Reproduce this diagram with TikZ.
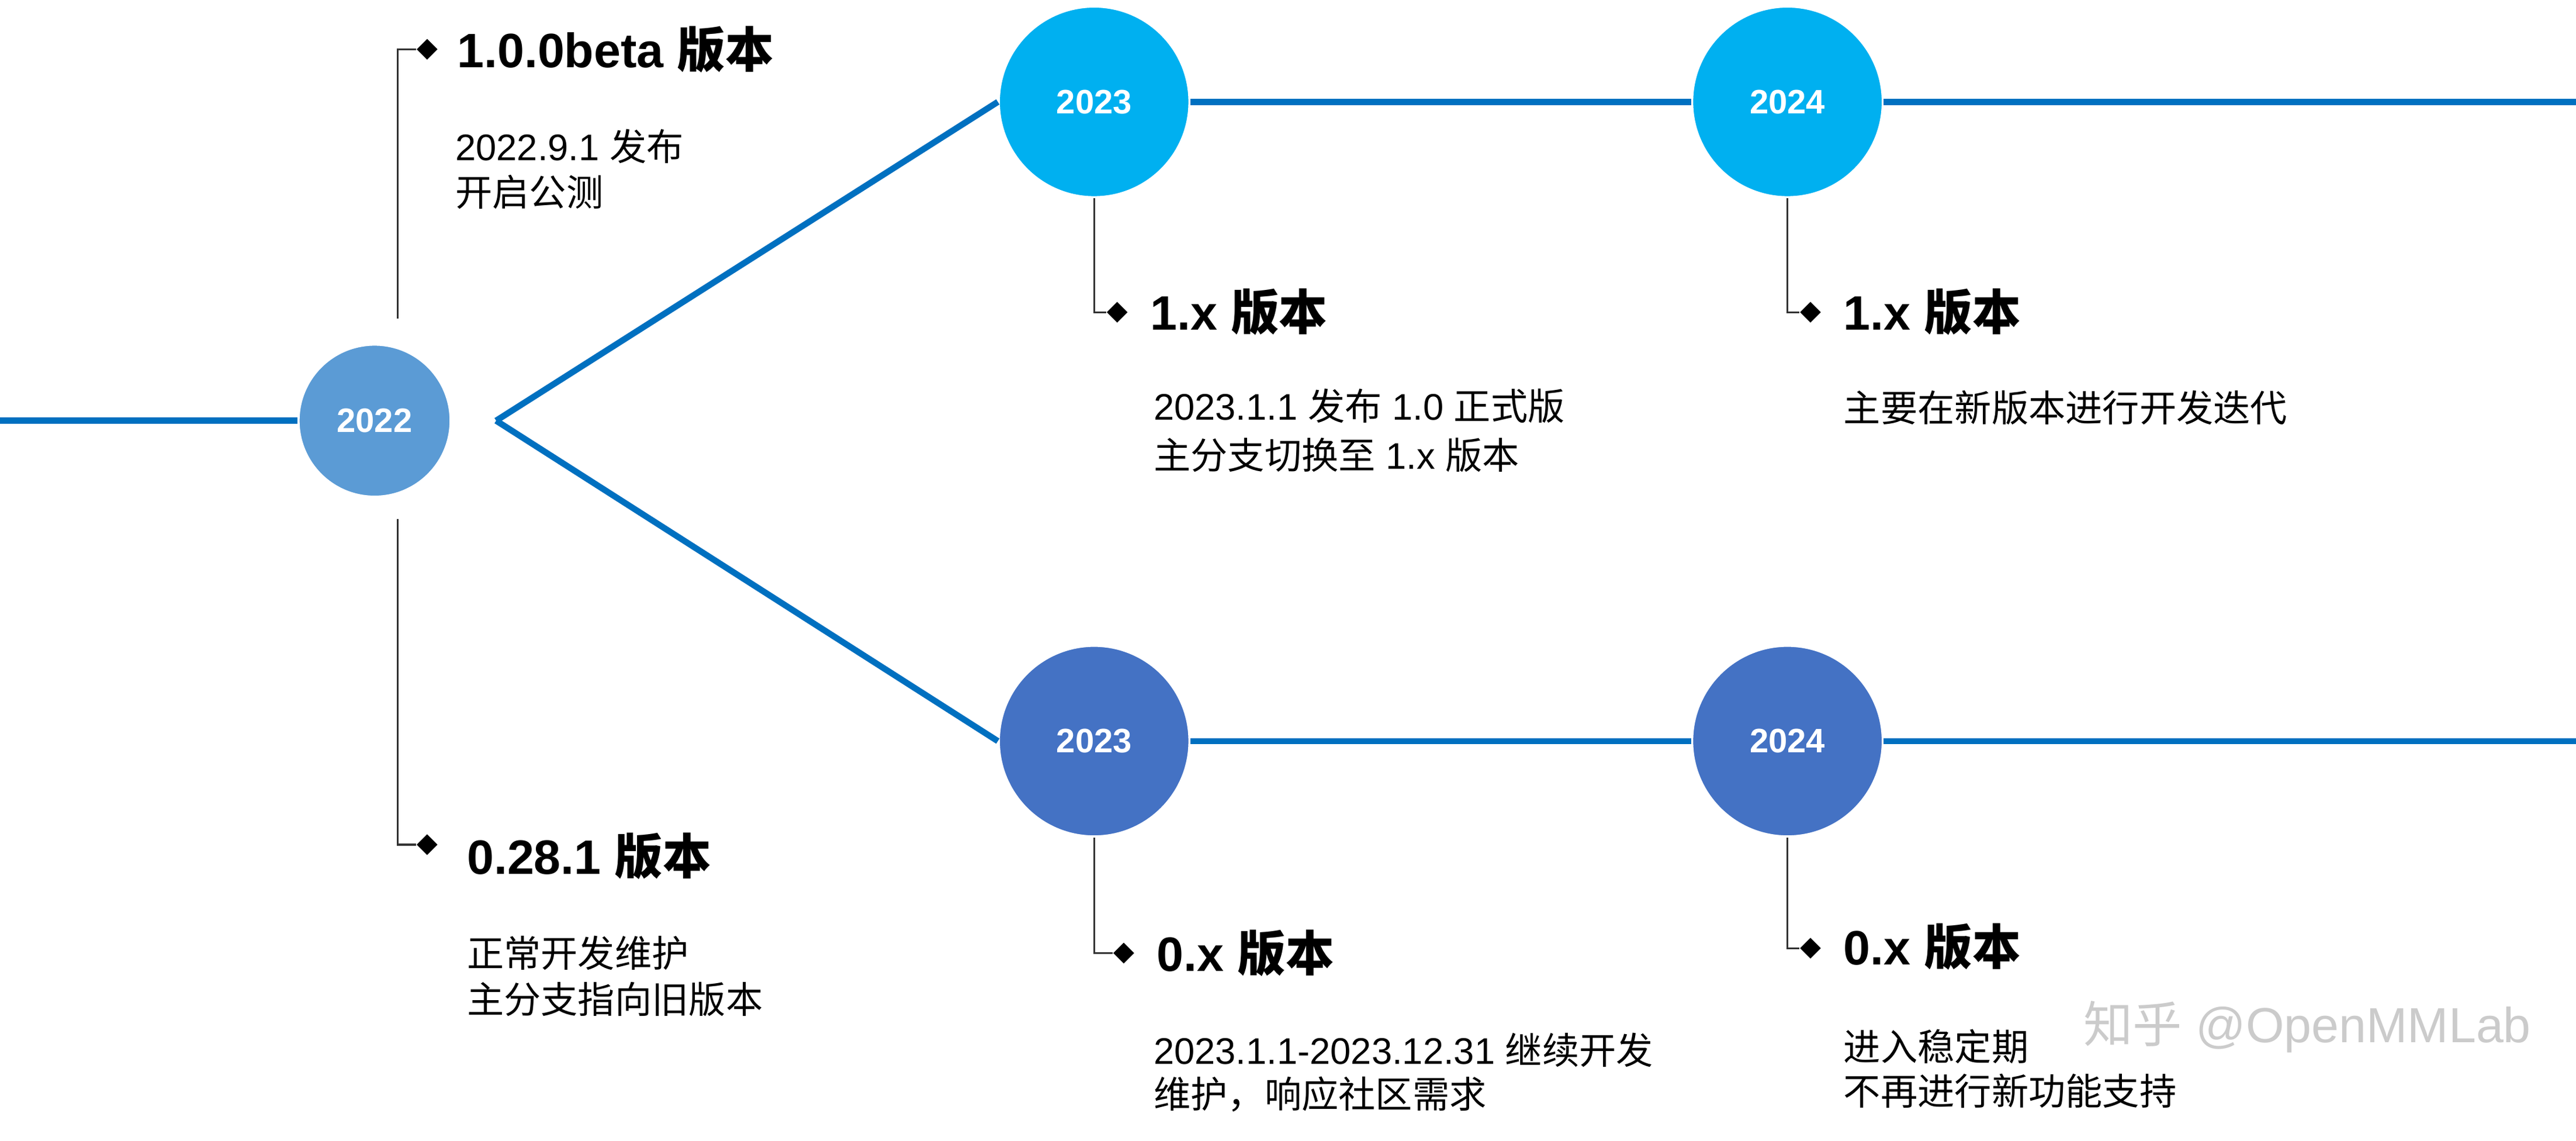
\documentclass[tikz,border=0pt]{standalone}
\usepackage{fontspec}
\setmainfont{Liberation Sans}
\newfontfamily\cjk{Noto Sans CJK SC}
\usetikzlibrary{shapes.geometric}
\definecolor{cA}{HTML}{5B9BD5}
\definecolor{cB}{HTML}{00B0F0}
\definecolor{cC}{HTML}{4472C4}
\definecolor{ln}{HTML}{0070C0}
\begin{document}
\begin{tikzpicture}[x=0.028112cm,y=-0.028112cm,
  yr/.style={circle,draw=white,line width=1pt,minimum size=#1,inner sep=0pt,text=white,font=\bfseries\fontsize{16.5}{20}\selectfont},
  main/.style={draw=ln,line width=3pt},
  conn/.style={draw=black!80,line width=0.9pt},
  dia/.style={diamond,fill=black,inner sep=0pt,minimum size=0.36cm},
  head/.style={anchor=west,inner sep=0pt,font=\bfseries\fontsize{23.5}{28}\selectfont},
  body/.style={anchor=west,inner sep=0pt,font=\fontsize{18}{22}\selectfont}]
\useasboundingbox (0,0) rectangle (1568,694);
\fill[white] (0,0) rectangle (1568,694);
\coordinate (s) at (0,256);
\node[yr=2.6cm,fill=cA] (c22) at (228,256) {2022};
\node[yr=3.26cm,fill=cB] (t23) at (666,62) {2023};
\node[yr=3.26cm,fill=cB] (t24) at (1088,62) {2024};
\node[yr=3.26cm,fill=cC] (b23) at (666,451) {2023};
\node[yr=3.26cm,fill=cC] (b24) at (1088,451) {2024};
\coordinate (te) at (1568,62);
\coordinate (be) at (1568,451);
\coordinate (fork) at (302,256);
\draw[main] (s) -- (c22.west);
\draw[main] (fork) -- (t23.west);
\draw[main] (fork) -- (b23.west);
\draw[main] (t23.east) -- (t24.west);
\draw[main] (t24.east) -- (te);
\draw[main] (b23.east) -- (b24.west);
\draw[main] (b24.east) -- (be);
% diamonds
\node[dia] (d1) at (260,30) {};
\node[dia] (d2) at (260,514) {};
\node[dia] (d3) at (680,190) {};
\node[dia] (d4) at (1102,190) {};
\node[dia] (d5) at (684,580) {};
\node[dia] (d6) at (1102,577) {};
\draw[conn] (242,194) |- (d1);
\draw[conn] (242,316) |- (d2);
\draw[conn] (t23.south) |- (d3);
\draw[conn] (t24.south) |- (d4);
\draw[conn] (b23.south) |- (d5);
\draw[conn] (b24.south) |- (d6);
% texts
\node[head] (h1) at (278,30) {1.0.0beta {\cjk 版本}};
\node[body] (a1) at (277,89) {2022.9.1 {\cjk 发布}};
\node[body] (a2) at (277,117) {\cjk 开启公测};
\node[head] (h2) at (284,521) {0.28.1 {\cjk 版本}};
\node[body] (b1) at (284,580) {\cjk 正常开发维护};
\node[body] (b2) at (284,608) {\cjk 主分支指向旧版本};
\node[head] (h3) at (700,190) {1.x {\cjk 版本}};
\node[body] (e1) at (702,247) {2023.1.1 {\cjk 发布} 1.0 {\cjk 正式版}};
\node[body] (e2) at (702,277) {{\cjk 主分支切换至} 1.x {\cjk 版本}};
\node[head] (h4) at (1122,190) {1.x {\cjk 版本}};
\node[body] (f1) at (1122,248) {\cjk 主要在新版本进行开发迭代};
\node[head] (h5) at (704,580) {0.x {\cjk 版本}};
\node[body] (g1) at (702,639) {2023.1.1-2023.12.31 {\cjk 继续开发}};
\node[body] (g2) at (702,666) {\cjk 维护，响应社区需求};
\node[head] (h6) at (1122,576) {0.x {\cjk 版本}};
\node[body] (k1) at (1122,637) {\cjk 进入稳定期};
\node[body] (k2) at (1122,664) {\cjk 不再进行新功能支持};
\node[anchor=west,inner sep=0pt,text=black!25,opacity=0.8,font=\fontsize{24}{28}\selectfont] (wm) at (1268,625) {{\cjk 知乎} @OpenMMLab};
\end{tikzpicture}
\end{document}
